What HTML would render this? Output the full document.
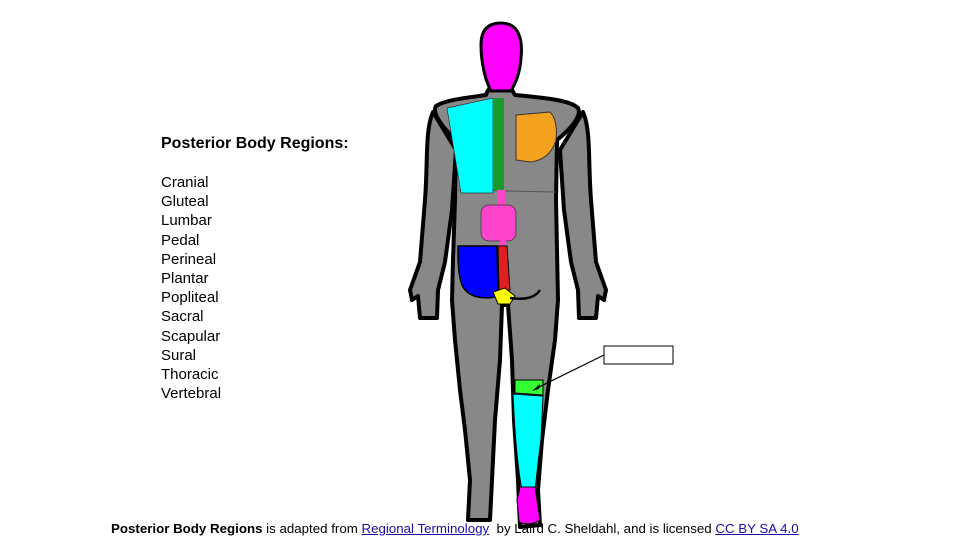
<!DOCTYPE html>
<html><head><meta charset="utf-8"><style>
html,body{margin:0;padding:0;background:#fff;}
body{width:960px;height:540px;position:relative;overflow:hidden;font-family:"Liberation Sans",Arial,sans-serif;}
.t{position:absolute;left:161px;color:#000;}
a{color:#1a0dab;text-decoration:underline;}
</style></head><body>
<svg width="960" height="540" style="position:absolute;left:0;top:0">
<g fill="#888" stroke="#000" stroke-width="4" stroke-linejoin="round">
<path d="M433 112 C425 130 428 160 425 200 L420 262 L410 290 L412 300 L418 296 L420 318 L437 318 L438 290 L445 262 L452 210 L456 150 Z"/>
<path d="M583 112 C591 130 588 160 591 200 L596 262 L606 290 L604 300 L598 296 L596 318 L579 318 L578 290 L571 262 L564 210 L560 150 Z"/>
<path d="M488 90 L486 95 C465 98 445 100 436 106 C432 112 440 125 456 140 L455 200 L453 260 L452 300 L455 340 L460 390 L465 430 L470 480 L468 520 L490 520 L492 480 L495 420 L500 360 L502 305 L508 305 L512 360 L514 420 L518 480 L520 527 L540 525 L538 490 L542 440 L548 390 L555 340 L558 300 L557 250 L556 200 L557 140 C572 128 582 115 578 108 C570 100 545 98 515 95 L512 90 Z"/>
</g>
<path d="M481 45 C481 28 490 23 501 23 C519 23 523 40 521 58 C520 74 515 84 511 91 L491 91 C485 80 481 62 481 45 Z" fill="#f0f" stroke="#000" stroke-width="3"/>
<line x1="458" y1="190" x2="556" y2="192" stroke="#555" stroke-width="1"/>
<path d="M447 108 L493 98 L493 193 L461 193 Z" fill="#0ff" stroke="#333" stroke-width="0.7"/>
<rect x="494" y="98" width="10" height="92" fill="#1a9a2a"/>
<path d="M516 115 L550 112 Q558 120 556 140 Q550 160 530 162 L516 160 Z" fill="#f4a11f" stroke="#333" stroke-width="1"/>
<rect x="497" y="190" width="8" height="17" fill="#f4c" />
<rect x="481" y="205" width="35" height="36" rx="8" fill="#f4c" stroke="#333" stroke-width="0.7"/>
<rect x="500" y="240" width="6" height="8" fill="#f4c"/>
<path d="M458 246 L497 246 L498 296 C485 300 468 298 462 285 C458 275 458 260 458 246 Z" fill="#00f" stroke="#000" stroke-width="1.5"/>
<path d="M498 246 L507 246 L510 290 L499 292 Z" fill="#e02020" stroke="#000" stroke-width="1"/>
<path d="M493 292 L505 288 L515 296 L510 304 L498 304 Z" fill="#ff0" stroke="#000" stroke-width="1"/>
<path d="M510 298 C525 300 535 298 540 290" fill="none" stroke="#000" stroke-width="2.5"/>
<path d="M515 380 L543 380 L543 395 L515 393 Z" fill="#3f3" stroke="#000" stroke-width="1"/>
<path d="M513 394 L543 396 L541 440 C538 460 537 475 535 490 L522 490 C518 470 515 440 513 394 Z" fill="#0ff" stroke="#000" stroke-width="1"/>
<path d="M520 487 L535 487 L540 520 C535 524 525 525 519 522 L517 500 Z" fill="#f0f" stroke="#000" stroke-width="1"/>
<rect x="604" y="346" width="69" height="18" fill="#fff" stroke="#000" stroke-width="1"/>
<line x1="604" y1="355" x2="535" y2="389" stroke="#000" stroke-width="1.2"/>
<path d="M532 391 L540 384 L539 389 Z" fill="#000"/>
</svg>
<div class="t" style="top:135px;font-size:16px;font-weight:bold;">Posterior Body Regions:</div>
<div class="t" style="top:173px;font-size:15px;line-height:19.2px;">Cranial<br>Gluteal<br>Lumbar<br>Pedal<br>Perineal<br>Plantar<br>Popliteal<br>Sacral<br>Scapular<br>Sural<br>Thoracic<br>Vertebral</div>
<div style="position:absolute;left:111px;top:521px;font-size:13.3px;white-space:nowrap;"><b>Posterior Body Regions</b> is adapted from <a>Regional Terminology</a>&nbsp; by Laird C. Sheldahl, and is licensed <a>CC BY SA 4.0</a></div>
</body></html>
